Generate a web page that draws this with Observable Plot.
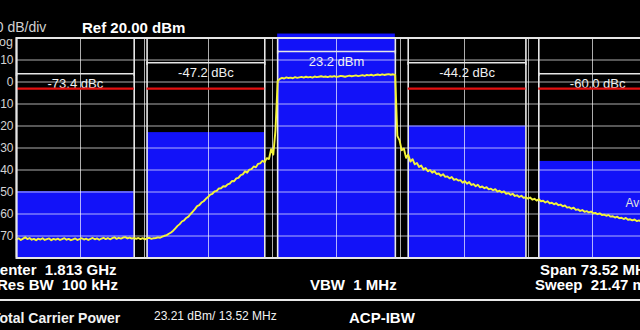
<!DOCTYPE html>
<html>
<head>
<meta charset="utf-8">
<script src="https://cdn.jsdelivr.net/npm/d3@7"></script>
<script src="https://cdn.jsdelivr.net/npm/@observablehq/plot@0.6"></script>
<style>
  html, body { margin: 0; padding: 0; background: #000; overflow: hidden; }
  #root { position: relative; width: 640px; height: 330px; overflow: hidden; background: #000;
          font-family: Arial, "Liberation Sans", sans-serif; color: #fff; }
  #chart { position: absolute; left: 0; top: 0; }
  .t { position: absolute; line-height: 1; white-space: pre; }
  .b { font-weight: bold; font-size: 15px; color: #fff; }
</style>
</head>
<body>
<div id="root">
  <div id="chart"></div>
  <div class="t" style="left:-12px;top:20px;font-size:14px;color:#d0d0d0">10 dB/div</div>
  <div class="t" style="left:-8px;top:35.6px;font-size:12.5px;color:#d0d0d0">Log</div>
  <div class="t b" style="left:82px;top:20.3px">Ref 20.00 dBm</div>
  <div class="t b" style="left:-11px;top:261.6px">Center  1.813 GHz</div>
  <div class="t b" style="left:-3px;top:277.3px">Res BW  100 kHz</div>
  <div class="t b" style="left:310px;top:277.3px">VBW  1 MHz</div>
  <div class="t b" style="left:540px;top:261.6px">Span 73.52 MHz</div>
  <div class="t b" style="left:535px;top:277.3px">Sweep  21.47 ms</div>
  <div style="position:absolute;left:0;top:298.5px;width:640px;height:2.5px;background:#e8e8e8"></div>
  <div class="t" style="left:-8px;top:310.9px;font-size:14px;font-weight:bold;color:#f2f2f2">Total Carrier Power</div>
  <div class="t" style="left:154px;top:309.8px;font-size:12px;color:#f2f2f2">23.21 dBm/ 13.52 MHz</div>
  <div class="t b" style="left:349px;top:310px">ACP-IBW</div>
</div>
<script>
// ---- data ----
const spanMHz = 73.52;               // full span, centre 1.813 GHz
const divisions = 10;
const refLevelDbm = 20;
const dbPerDiv = 10;
const yTicks = [10, 0, -10, -20, -30, -40, -50, -60, -70];

const bandOffsetMHz = [-30, -15, 0, 15, 30];
const bandWidthMHz = 13.52;
const bandPowerDbm = [-49.8, -23.0, 23.2, -20.0, -36.1];
const bandLabels = ["-73.4 dBc", "-47.2 dBc", "23.2 dBm", "-44.2 dBc", "-60.0 dBc"];
const bandMarkerDb = [3.7, 8.7, 13.9, 8.7, 3.7];
const limitDbm = -3;

const traceStartMHz = -36.76;
const traceStepMHz = 0.25;
const traceDbm = [
  // lower noise floor
  -71.6, -71.0, -71.8, -71.2, -70.6, -71.4, -70.9, -71.7, -71.3, -71.9,
  -71.2, -71.6, -71.0, -71.8, -71.4, -71.1, -71.9, -71.3, -71.7, -71.2,
  -71.8, -71.4, -71.0, -71.7, -71.3, -71.9, -71.5, -71.1, -71.8, -71.4,
  -71.0, -71.6, -71.2, -71.8, -71.3, -70.9, -71.5, -71.1, -71.7, -71.2,
  -70.8, -71.4, -70.9, -71.5, -71.0, -70.6, -71.3, -70.8, -71.2, -70.7,
  -70.5, -71.1, -70.7, -71.2, -70.8, -71.3, -70.9, -71.4, -71.0, -71.5,
  -71.1, -70.8, -71.3, -71.0,
  // lower skirt
  -70.9, -70.6, -70.8, -70.3, -69.9, -69.6, -69.0, -68.4, -67.6, -66.5,
  -65.4, -64.6, -63.4, -62.9, -61.8, -61.2, -60.0, -58.9, -57.8, -56.4,
  -56.0, -54.8, -54.2, -53.1, -52.3, -51.2, -50.8, -49.7, -49.5, -48.4,
  -48.3, -47.4, -47.5, -46.5, -46.2, -45.0, -45.1, -43.8, -43.6, -42.3,
  -42.0, -40.6, -41.2, -39.8, -39.6, -38.4, -38.8, -37.2, -37.0, -35.8,
  -36.4, -34.6, -35.0, -30.5, -33.0, -22.0, 0.4,
  // carrier
  1.4, 1.9, 1.6, 2.1, 1.8, 2.0, 1.7, 2.2, 1.9, 2.1,
  2.3, 2.0, 2.4, 2.1, 2.3, 2.0, 2.5, 2.2, 2.4, 2.6,
  2.3, 2.5, 2.2, 2.6, 2.4, 2.7, 2.3, 2.5, 2.8, 2.6,
  2.4, 2.7, 2.9, 2.6, 2.8, 3.0, 2.7, 2.9, 3.1, 2.8,
  3.2, 3.0, 3.3, 2.9, 3.2, 3.4, 3.1, 3.5, 3.2, 3.4,
  3.6, 3.3, 3.5, 3.2,
  // upper skirt
  -24.5, -26.5, -31.0, -30.2, -34.5, -33.0, -36.2, -35.1, -37.4, -36.8,
  -38.6, -38.0, -39.8, -39.1, -40.6, -40.0, -41.2, -40.5, -41.8, -41.6,
  -42.6, -41.9, -43.1, -42.9, -43.8, -43.2, -44.5, -44.1, -44.8, -44.6,
  -45.8, -45.0, -46.2, -45.5, -46.8, -46.4, -47.4, -46.7, -47.9, -47.5,
  -48.3, -47.8, -48.8, -48.5, -49.2, -48.7, -49.8, -49.4, -50.2, -49.7,
  -50.8, -50.5, -51.3, -50.8, -51.8, -51.5, -52.3, -51.7, -52.7, -52.4,
  -53.0, -52.5, -53.5, -53.1, -53.9, -53.3, -54.2, -54.0, -54.8, -54.2,
  -55.2, -54.9, -55.6, -55.1, -56.0, -55.7, -56.5, -56.1, -57.1, -56.9,
  -57.6, -57.1, -58.1, -57.9, -58.6, -58.2, -59.0, -58.7, -59.3, -58.9,
  -59.7, -59.5, -60.1, -59.7, -60.5, -60.3, -60.8, -60.4, -61.2, -61.0,
  -61.6, -61.2, -61.9, -61.7, -62.3, -61.8, -62.6, -62.4, -62.9, -62.5,
  -63.2, -62.9, -63.4, -63.0, -63.7, -63.5, -64.0, -63.6, -64.2, -63.9
];
const annotationText = "Ave";
const annotationAt = {f: 33.2, db: -55.2};

// ---- derived tables ----
const half = spanMHz / 2;
const bottomDb = refLevelDbm - divisions * dbPerDiv;
const bands = bandOffsetMHz.map((c, i) => ({
  i, c, lo: c - bandWidthMHz / 2, hi: c + bandWidthMHz / 2,
  power: bandPowerDbm[i], label: bandLabels[i], marker: bandMarkerDb[i]
}));
const adjacent = bands.filter(d => d.c !== 0);
const edges = Array.from(new Set(bands.flatMap(d => [d.lo, d.hi]).map(v => +v.toFixed(3))));
const divLines = d3.range(divisions + 1).map(i => -half + i * spanMHz / divisions);
const hLines = d3.range(bottomDb, refLevelDbm + 1, dbPerDiv);
const trace = traceDbm.map((v, k) => ({f: traceStartMHz + k * traceStepMHz, v}));

const blue = "#1212f8";
const chart = Plot.plot({
  width: 656, height: 260,
  marginLeft: 16, marginRight: 0, marginTop: 37.5, marginBottom: 2.5,
  style: {background: "black", color: "#d4d4d4", fontSize: "12px",
          fontFamily: "Arial, 'Liberation Sans', sans-serif", maxWidth: "none", overflow: "visible"},
  x: {domain: [-half, half], axis: null},
  y: {domain: [bottomDb, refLevelDbm], ticks: yTicks, tickSize: 0, tickPadding: 3,
      tickFormat: d => String(d), label: null},
  marks: [
    Plot.rect(bands, {x1: "lo", x2: "hi", y1: bottomDb, y2: d => Math.min(d.power, refLevelDbm + 1.8), fill: blue}),
    Plot.ruleX(divLines, {stroke: "#ffffff", strokeOpacity: 0.68, strokeWidth: 1}),
    Plot.ruleY(hLines, {stroke: "#ffffff", strokeOpacity: 0.68, strokeWidth: 1}),
    Plot.ruleX(edges, {y1: bottomDb, y2: refLevelDbm, stroke: "#e8e8e8", strokeWidth: 1.6}),
    Plot.ruleY(bands, {y: "marker", x1: "lo", x2: "hi", stroke: "#e6e6e6", strokeWidth: 1.5}),
    Plot.ruleX(bands, {x: "lo", y1: d => d.marker + 0.4, y2: d => d.marker - 1.2, stroke: "#e6e6e6", strokeWidth: 1.5}),
    Plot.ruleX(bands, {x: "hi", y1: d => d.marker + 0.4, y2: d => d.marker - 1.2, stroke: "#e6e6e6", strokeWidth: 1.5}),
    Plot.text(bands, {x: "c", y: d => d.marker - 4.7, text: "label", fill: "#f0f0f0", fontSize: 13}),
    Plot.ruleY(adjacent, {y: limitDbm, x1: "lo", x2: "hi", stroke: "#e41010", strokeWidth: 2.2}),
    Plot.line(trace, {x: "f", y: "v", stroke: "#f4f43a", strokeWidth: 1.9}),
    Plot.text([annotationAt], {x: "f", y: "db", text: () => annotationText, textAnchor: "start", fill: "#e0e0e0", fontSize: 12}),
    Plot.frame({stroke: "#e6e6e6", strokeWidth: 2})
  ]
});
document.getElementById("chart").appendChild(chart);
</script>
</body>
</html>
